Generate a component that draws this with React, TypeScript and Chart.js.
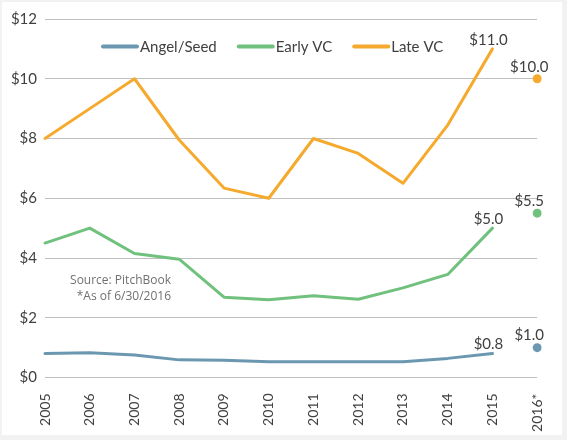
import React, { useEffect, useRef } from 'react';
import { Chart, registerables } from 'chart.js';

Chart.register(...registerables);

const years = ['2005', '2006', '2007', '2008', '2009', '2010', '2011', '2012', '2013', '2014', '2015', '2016*'];
const angelSeed = [0.8, 0.83, 0.75, 0.59, 0.58, 0.53, 0.53, 0.53, 0.53, 0.64, 0.8, 1.0];
const earlyVC = [4.5, 5.0, 4.15, 3.96, 2.69, 2.6, 2.74, 2.62, 3.0, 3.45, 5.0, 5.5];
const lateVC = [8.0, 9.0, 10.0, 7.95, 6.34, 6.0, 8.0, 7.5, 6.5, 8.45, 11.0, 10.0];
const seriesNames = ['Angel/Seed', 'Early VC', 'Late VC'];
const seriesColors = ['#6b97b1', '#6fc17d', '#f5aa2e'];
const sourceLines = ['Source: PitchBook', '*As of 6/30/2016'];

const FONT = 'Lato, "Open Sans", sans-serif';
const TEXT = '#404040';
const LAST = years.length - 1; // 2016* is a partial year, shown as a lone dot

// legend drawn inside the plot area, left of centre
const legendPlugin = {
  id: 'insideLegend',
  afterDatasetsDraw(chart: Chart) {
    const { ctx, chartArea } = chart;
    let x = chartArea.left + 58;
    const y = chartArea.top + 27.5;
    ctx.save();
    ctx.font = `15px ${FONT}`;
    ctx.textBaseline = 'middle';
    ctx.textAlign = 'left';
    chart.data.datasets.forEach((ds: any) => {
      ctx.strokeStyle = ds.borderColor;
      ctx.lineWidth = 4;
      ctx.lineCap = 'round';
      ctx.beginPath();
      ctx.moveTo(x, y);
      ctx.lineTo(x + 34, y);
      ctx.stroke();
      ctx.fillStyle = TEXT;
      ctx.fillText(ds.label, x + 37, y + 1);
      x += 37 + ctx.measureText(ds.label).width + 22;
    });
    ctx.restore();
  },
};

// value labels on the last two points of each series
const valueLabelPlugin = {
  id: 'valueLabels',
  afterDatasetsDraw(chart: Chart) {
    const { ctx } = chart;
    ctx.save();
    ctx.font = `15px ${FONT}`;
    ctx.fillStyle = TEXT;
    ctx.textAlign = 'center';
    ctx.textBaseline = 'middle';
    chart.data.datasets.forEach((ds: any, di: number) => {
      const meta = chart.getDatasetMeta(di);
      [LAST - 1, LAST].forEach((i) => {
        const pt = meta.data[i];
        const v = ds.data[i] as number;
        const dx = i === LAST ? -8 : -4;
        const dy = i === LAST ? -12 : -9;
        ctx.fillText('$' + v.toFixed(1), pt.x + dx, pt.y + dy);
      });
    });
    ctx.restore();
  },
};

const sourcePlugin = {
  id: 'sourceNote',
  afterDraw(chart: Chart) {
    const { ctx, chartArea } = chart;
    ctx.save();
    ctx.font = '12px "Open Sans", sans-serif';
    ctx.fillStyle = '#707070';
    ctx.textAlign = 'right';
    ctx.textBaseline = 'middle';
    sourceLines.forEach((line, i) => {
      ctx.fillText(line, chartArea.left + 126, chartArea.top + 262 + i * 15.7);
    });
    ctx.restore();
  },
};

const App: React.FC = () => {
  const canvasRef = useRef<HTMLCanvasElement>(null);
  const chartRef = useRef<Chart | null>(null);

  useEffect(() => {
    if (!canvasRef.current) return;
    if (chartRef.current) chartRef.current.destroy();

    const makeSet = (label: string, data: number[], color: string) => ({
      label,
      data,
      borderColor: color,
      backgroundColor: color,
      borderWidth: 3,
      tension: 0,
      borderJoinStyle: 'round' as const,
      borderCapStyle: 'round' as const,
      pointRadius: (c: any) => (c.dataIndex === LAST ? 4.5 : 0),
      pointHoverRadius: (c: any) => (c.dataIndex === LAST ? 4.5 : 0),
      pointBorderWidth: 0,
      pointBackgroundColor: color,
      segment: {
        borderColor: (c: any) => (c.p1DataIndex === LAST ? 'rgba(0,0,0,0)' : undefined),
      },
    });

    chartRef.current = new Chart(canvasRef.current, {
      type: 'line',
      data: {
        labels: years,
        datasets: [
          makeSet(seriesNames[0], angelSeed, seriesColors[0]),
          makeSet(seriesNames[1], earlyVC, seriesColors[1]),
          makeSet(seriesNames[2], lateVC, seriesColors[2]),
        ],
      },
      options: {
        animation: false,
        responsive: true,
        maintainAspectRatio: false,
        layout: { padding: { top: 17, right: 7, left: 0, bottom: 0 } },
        plugins: {
          legend: { display: false },
          tooltip: { enabled: false },
        },
        scales: {
          x: {
            grid: { display: false },
            border: { display: false },
            ticks: {
              color: TEXT,
              font: { family: FONT, size: 14 },
              minRotation: 90,
              maxRotation: 90,
              padding: 8,
              autoSkip: false,
            },
            afterFit: (scale: any) => {
              scale.height = 57.5;
            },
          },
          y: {
            min: 0,
            max: 12,
            grid: { color: '#bfbfbf', lineWidth: 1, drawTicks: false },
            border: { display: false },
            ticks: {
              stepSize: 2,
              color: TEXT,
              font: { family: FONT, size: 15 },
              padding: 8,
              callback: (v: any) => '$' + v,
            },
            afterFit: (scale: any) => {
              scale.width = 43;
            },
          },
        },
      },
      plugins: [legendPlugin, valueLabelPlugin, sourcePlugin],
    });

    return () => {
      if (chartRef.current) {
        chartRef.current.destroy();
        chartRef.current = null;
      }
    };
  }, []);

  return (
    <div style={{ position: 'absolute', left: 0, top: 0, width: 567, height: 440, background: '#f2f2f2' }}>
      <div style={{ position: 'absolute', left: 2, top: 2, width: 560, height: 433, background: '#ffffff' }}>
        <canvas ref={canvasRef}></canvas>
      </div>
    </div>
  );
};

export default App;
